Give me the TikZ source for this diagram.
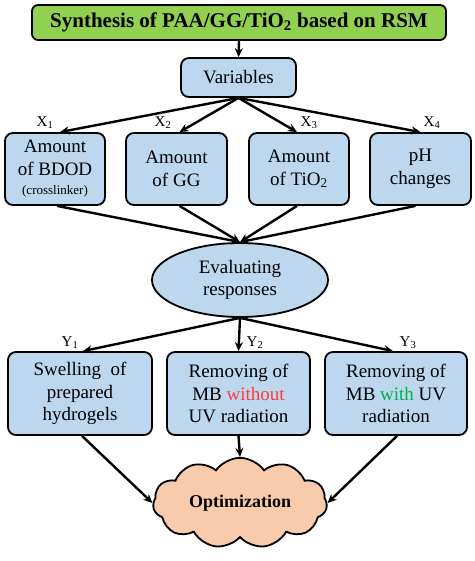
\documentclass[tikz,border=0pt]{standalone}
\usepackage{fontspec}
\setmainfont{Liberation Serif}
\usetikzlibrary{arrows.meta,shapes.geometric,shapes.symbols}
\definecolor{titlegreen}{HTML}{92D050}
\definecolor{boxblue}{HTML}{BDD7EE}
\definecolor{cloudpeach}{HTML}{F8CBAD}
\definecolor{redtxt}{HTML}{FF3B3B}
\definecolor{greentxt}{HTML}{00B050}
\begin{document}
\begin{tikzpicture}[x=1pt,y=-1pt,
  box/.style={draw=black,line width=1.8pt,rounded corners=8pt,fill=boxblue,align=center,inner sep=0pt,
    font=\fontsize{19}{22.5}\selectfont},
  titlebox/.style={draw=black,line width=1.8pt,rounded corners=6pt,fill=titlegreen,align=center,inner sep=0pt,
    font=\fontsize{21}{24}\selectfont\bfseries},
  lab/.style={font=\fontsize{15}{15}\selectfont,inner sep=0pt},
  arr/.style={line width=2.4pt,-{Stealth[length=9pt,width=8pt]}},
]
\useasboundingbox (0,0) rectangle (474,561);
\node[titlebox,minimum width=414pt,minimum height=35pt] (title) at (239,22.5) {Synthesis of PAA/GG/TiO\textsubscript{2} based on RSM};
\node[box,minimum width=115pt,minimum height=39pt] (var) at (238.5,77.5) {Variables};
\node[box,minimum width=100pt,minimum height=72pt] (x1) at (55,169) {Amount\\of BDOD\\[-3pt]{\fontsize{13}{14}\selectfont (crosslinker)}};
\node[box,minimum width=101pt,minimum height=72pt] (x2) at (176.5,169) {Amount\\of GG};
\node[box,minimum width=100pt,minimum height=72pt] (x3) at (299,169) {Amount\\of TiO\textsubscript{2}};
\node[box,minimum width=101pt,minimum height=72pt] (x4) at (420.5,169) {pH\\changes};
\node[box,ellipse,rounded corners=0pt,minimum width=176pt,minimum height=74pt] (eval) at (240,280) {Evaluating\\responses};
\node[box,minimum width=144pt,minimum height=83pt] (y1) at (80,393.5) {Swelling\ \ of\\prepared\\hydrogels};
\node[box,minimum width=143pt,minimum height=83pt] (y2) at (238.5,393.5) {Removing of\\MB \textcolor{redtxt}{without}\\UV radiation};
\node[box,minimum width=142pt,minimum height=83pt] (y3) at (396,393.5) {Removing of\\MB \textcolor{greentxt}{with} UV\\radiation};
\node[box,cloud,rounded corners=0pt,fill=cloudpeach,cloud puffs=11,cloud puff arc=110,aspect=2,
  minimum width=174pt,minimum height=87pt,font=\fontsize{18}{20}\selectfont\bfseries] (opt) at (240,503) {Optimization};
\node[lab] (lx1) at (45,123) {X\textsubscript{1}};
\node[lab] (lx2) at (163,123) {X\textsubscript{2}};
\node[lab] (lx3) at (309,123) {X\textsubscript{3}};
\node[lab] (lx4) at (432,123) {X\textsubscript{4}};
\node[lab] (ly1) at (70,343) {Y\textsubscript{1}};
\node[lab] (ly2) at (255,343) {Y\textsubscript{2}};
\node[lab] (ly3) at (408,343) {Y\textsubscript{3}};
\draw[arr] (title.south) -- (var.north);
\draw[arr] (var.south) -- ([xshift=5pt]x1.north);
\draw[arr] (var.south) -- ([xshift=3pt]x2.north);
\draw[arr] (var.south) -- ([xshift=-2pt]x3.north);
\draw[arr] (var.south) -- (x4.north);
\draw[arr] ([xshift=2pt]x1.south) -- (eval.north);
\draw[arr] ([xshift=3pt]x2.south) -- (eval.north);
\draw[arr] ([xshift=-2pt]x3.south) -- (eval.north);
\draw[arr] ([xshift=-5pt]x4.south) -- (eval.north);
\draw[arr] (eval.south) -- ([xshift=3pt]y1.north);
\draw[arr] (eval.south) -- (y2.north);
\draw[arr] (eval.south) -- ([xshift=-3pt]y3.north);
\draw[arr] ([xshift=2pt]y1.south) -- (opt.west);
\draw[arr] (y2.south) -- (opt.north);
\draw[arr] ([xshift=1pt]y3.south) -- (opt.east);
\end{tikzpicture}
\end{document}
